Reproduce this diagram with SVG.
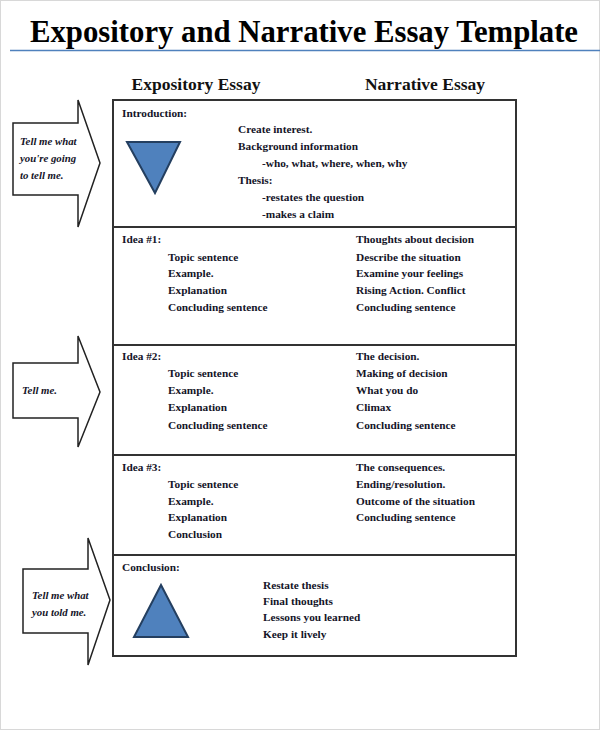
<svg xmlns="http://www.w3.org/2000/svg" width="600" height="730" viewBox="0 0 600 730">
<style>
.t{font-family:"Liberation Serif","Times New Roman",serif;font-weight:bold;font-size:11.3px;fill:#141428}
.h{font-family:"Liberation Serif","Times New Roman",serif;font-weight:bold;font-size:17.5px;fill:#111}
.a{font-family:"Liberation Serif","Times New Roman",serif;font-weight:bold;font-style:italic;font-size:10.8px;fill:#141428}
.box{fill:#fff;stroke:#333;stroke-width:2}
.arr{fill:#fff;stroke:#222;stroke-width:1.5;stroke-linejoin:miter}
.tri{fill:#4f81bd;stroke:#243f60;stroke-width:2;stroke-linejoin:miter}
</style>
<rect x="0" y="0" width="600" height="730" fill="#fff"/>
<rect x="0.5" y="0.5" width="599" height="729" fill="none" stroke="#d8d8d8" stroke-width="1"/>
<g id="title">
<text x="304" y="42" text-anchor="middle" font-family="'Liberation Serif','Times New Roman',serif" font-weight="bold" font-size="30.5" fill="#000" textLength="548" lengthAdjust="spacingAndGlyphs">Expository and Narrative Essay Template</text>
<line x1="10" y1="50.5" x2="600" y2="50.5" stroke="#4f81bd" stroke-width="1.5"/>
</g>
<g id="headers">
<text class="h" x="196" y="90" text-anchor="middle">Expository Essay</text>
<text class="h" x="425" y="90" text-anchor="middle">Narrative Essay</text>
</g>
<g id="arrow-intro">
<path class="arr" d="M13,123 H78 V100 L100,163 L78,227 V195 H13 Z"/>
<text class="a" x="20" y="145">Tell me what</text>
<text class="a" x="20" y="162">you're going</text>
<text class="a" x="20" y="179">to tell me.</text>
</g>
<g id="arrow-body">
<path class="arr" d="M13,363 H78 V336 L100,392 L78,447 V418 H13 Z"/>
<text class="a" x="22" y="394">Tell me.</text>
</g>
<g id="arrow-conclusion">
<path class="arr" d="M23,569 H88 V538 L110,600 L88,665 V633 H23 Z"/>
<text class="a" x="32" y="599">Tell me what</text>
<text class="a" x="32" y="616">you told me.</text>
</g>
<g id="table">
<rect class="box" x="113" y="100" width="403" height="556"/>
<line x1="113" y1="227" x2="516" y2="227" stroke="#333" stroke-width="2"/>
<line x1="113" y1="345" x2="516" y2="345" stroke="#333" stroke-width="2"/>
<line x1="113" y1="455" x2="516" y2="455" stroke="#333" stroke-width="2"/>
<line x1="113" y1="555" x2="516" y2="555" stroke="#333" stroke-width="2"/>
</g>
<g id="introduction">
<text class="t" x="122" y="117">Introduction:</text>
<polygon class="tri" points="127,142 180,142 155,193"/>
<text class="t" x="238" y="133">Create interest.</text>
<text class="t" x="238" y="150">Background information</text>
<text class="t" x="262" y="167">-who, what, where, when, why</text>
<text class="t" x="238" y="184">Thesis:</text>
<text class="t" x="262" y="201">-restates the question</text>
<text class="t" x="262" y="218">-makes a claim</text>
</g>
<g id="idea1">
<text class="t" x="122" y="243">Idea #1:</text>
<text class="t" x="168" y="261">Topic sentence</text>
<text class="t" x="168" y="277">Example.</text>
<text class="t" x="168" y="294">Explanation</text>
<text class="t" x="168" y="311">Concluding sentence</text>
<text class="t" x="356" y="243">Thoughts about decision</text>
<text class="t" x="356" y="261">Describe the situation</text>
<text class="t" x="356" y="277">Examine your feelings</text>
<text class="t" x="356" y="294">Rising Action. Conflict</text>
<text class="t" x="356" y="311">Concluding sentence</text>
</g>
<g id="idea2">
<text class="t" x="122" y="360">Idea #2:</text>
<text class="t" x="168" y="377">Topic sentence</text>
<text class="t" x="168" y="394">Example.</text>
<text class="t" x="168" y="411">Explanation</text>
<text class="t" x="168" y="429">Concluding sentence</text>
<text class="t" x="356" y="360">The decision.</text>
<text class="t" x="356" y="377">Making of decision</text>
<text class="t" x="356" y="394">What you do</text>
<text class="t" x="356" y="411">Climax</text>
<text class="t" x="356" y="429">Concluding sentence</text>
</g>
<g id="idea3">
<text class="t" x="122" y="471">Idea #3:</text>
<text class="t" x="168" y="488">Topic sentence</text>
<text class="t" x="168" y="505">Example.</text>
<text class="t" x="168" y="521">Explanation</text>
<text class="t" x="168" y="538">Conclusion</text>
<text class="t" x="356" y="471">The consequences.</text>
<text class="t" x="356" y="488">Ending/resolution.</text>
<text class="t" x="356" y="505">Outcome of the situation</text>
<text class="t" x="356" y="521">Concluding sentence</text>
</g>
<g id="conclusion">
<text class="t" x="122" y="571">Conclusion:</text>
<polygon class="tri" points="161,585 188,637 134,637"/>
<text class="t" x="263" y="589">Restate thesis</text>
<text class="t" x="263" y="605">Final thoughts</text>
<text class="t" x="263" y="621">Lessons you learned</text>
<text class="t" x="263" y="638">Keep it lively</text>
</g>
</svg>
